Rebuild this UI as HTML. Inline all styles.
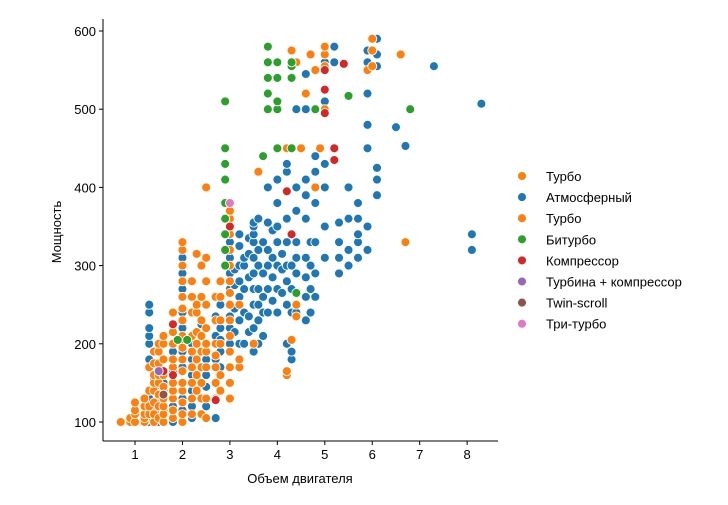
<!DOCTYPE html>
<html><head><meta charset="utf-8">
<style>
body{margin:0;background:#fff;}
svg{font-family:"Liberation Sans","DejaVu Sans",sans-serif;}
</style></head>
<body>
<svg id="chart" width="728" height="500"></svg>
<script>
const atmoCols = [[1.3,[100,130,180,200,210,220,240,250]],[1.4,[100,120,140,155]],[1.5,[100,110,130,140]],[1.6,[100,115,140,150,160]],[1.8,[100,120,140,165,190]],[2.0,[100,115,130,150,170,190,200,210,220,240,260,270,290,310]],[2.2,[105,120,140,160,180,200]],[2.4,[130,150,170,190,210,225]],[2.5,[120,145,160,180,200]],[2.7,[105,150,180,210,235]],[2.8,[170,190,205,220,250]],[3.0,[170,190,200,220,235,250,270,290,310,320,330]],[3.1,[215,245,275,295]],[3.2,[200,230,260,280,300,325,340]],[3.3,[200,240,270,300,310]],[3.4,[215,235,285,315,335]],[3.5,[190,220,250,270,290,310,330,340,350,355]],[3.6,[200,230,250,270,300,320,360]],[3.7,[210,240,260,290,330]],[3.8,[240,270,300,320,355,400]],[3.9,[255,285,310,345]],[4.0,[240,270,300,330,350,380,410,450]],[4.1,[265,295,315]],[4.2,[200,250,280,300,330,360,420,430]],[4.3,[180,190,240,270,300]],[4.4,[240,290,310,330,370,400,500]],[4.6,[230,260,285,310,360,390,410,500,545]],[4.7,[240,270,300,330]],[4.8,[260,290,330,380,400,420,440]],[5.0,[310,350,400,430,510,560,570]],[5.2,[560,580]],[5.3,[290,310,330,355]],[5.5,[300,320,360,400]],[5.7,[310,330,340,360,380]],[5.9,[320,350,450,480,520,560,575]],[6.1,[390,410,425,555,570,590]],[6.5,[477]],[6.7,[453]],[7.3,[555]],[8.1,[320,340]],[8.3,[507]]];
const turboCols = [[0.7,[100]],[0.9,[100,105]],[1.0,[100,110,115,125]],[1.2,[100,105,110,120,130]],[1.3,[110,120,140,170]],[1.4,[100,110,125,140,150,160,175,190]],[1.5,[105,120,135,150,160,175,190,200]],[1.6,[100,110,120,130,145,160,180,200,210]],[1.8,[105,115,130,140,150,170,180,200,215,240]],[2.0,[100,110,125,140,150,165,180,195,210,230,245,260,280,300,320,330]],[2.2,[110,130,150,170,190,210,240,260,280]],[2.3,[140,160,180,200,215,240,250,315]],[2.4,[110,130,150,170,190,210,230,260,300]],[2.5,[105,130,170,190,200,220,250,280,310,400]],[2.7,[130,150,170,185,200,230,260]],[2.8,[140,160,200,230,260,280]],[3.0,[130,150,170,190,210,230,250,265,280,300,320,340,360,370]],[3.2,[170,180,250]],[3.5,[200]],[3.6,[420]],[4.2,[160,165,450]],[4.3,[205,575]],[4.4,[235,250,560]],[4.5,[450]],[4.6,[520]],[4.7,[570]],[4.8,[400,550]],[4.9,[450]],[5.0,[500,555,570,580]],[5.9,[550]],[6.0,[555,575,590]],[6.6,[570]],[6.7,[330]]];
const biturboCols = [[1.9,[205]],[2.1,[205]],[2.9,[300,320,340,360,380,410,430,450,510]],[3.7,[440]],[3.8,[500,520,540,560,580]],[4.0,[450,500,510,540,560]],[4.3,[450,540,555,560]],[4.4,[265]],[4.8,[500]],[5.5,[517]],[6.8,[500]]];
const compCols = [[1.6,[165]],[1.8,[160,225]],[2.7,[128]],[3.0,[350]],[4.2,[395]],[4.3,[340]],[5.0,[495,525,550]],[5.2,[435,450]],[5.4,[558]]];
const turbCompCols = [[1.5,[165]]];
const twinCols = [[1.6,[135]]];
const triCols = [[3.0,[380]]];
const xTicks = [1,2,3,4,5,6,7,8];
const yTicks = [100,200,300,400,500,600];
const legendLabels = ["Турбо","Атмосферный","Турбо","Битурбо","Компрессор","Турбина + компрессор","Twin-scroll","Три-турбо"];
const legendColors = ["#ff7f0e","#1f77b4","#ff7f0e","#2ca02c","#d62728","#9467bd","#8c564b","#e377c2"];

const NS="http://www.w3.org/2000/svg";
const svg=document.getElementById('chart');
const X0=103,X1=498,Y0=441,Y1=19;
const xs=v=>135+(v-1)*47.45;
const ys=v=>422-(v-100)*0.782;
function mk(t,a){const e=document.createElementNS(NS,t);for(const k in a)e.setAttribute(k,a[k]);svg.appendChild(e);return e;}

let ax=mk('line',{x1:X0,y1:Y1,x2:X0,y2:Y0,stroke:'#000','stroke-width':1});


ax=mk('line',{x1:X0,y1:Y0,x2:X1,y2:Y0,stroke:'#000','stroke-width':1});


xTicks.forEach(t=>{
  mk('line',{x1:xs(t),y1:Y0,x2:xs(t),y2:Y0+4,stroke:'#000'});
  const tx=mk('text',{x:xs(t),y:Y0+18,'text-anchor':'middle','font-size':13});
  tx.textContent=t;
  
  
});
yTicks.forEach(t=>{
  mk('line',{x1:X0-4,y1:ys(t),x2:X0,y2:ys(t),stroke:'#000'});
  const tx=mk('text',{x:X0-7,y:ys(t)+5,'text-anchor':'end','font-size':13});
  tx.textContent=t;
  
  
});
let t=mk('text',{x:300,y:483,'text-anchor':'middle','font-size':13});
t.textContent='Объем двигателя';


t=mk('text',{x:61,y:232,'text-anchor':'middle','font-size':13,transform:'rotate(-90 61 232)'});
t.textContent='Мощность';



function drawSeries(cols,color,name){
  cols.forEach(([x,arr])=>arr.forEach(y=>{
    const c=mk('circle',{cx:xs(x),cy:ys(y),r:4.5,fill:color,stroke:'#fff','stroke-width':0.9});
    
    
  }));
}
drawSeries(atmoCols,'#1f77b4','point-atmospheric');
drawSeries(turboCols,'#ff7f0e','point-turbo');
drawSeries(biturboCols,'#2ca02c','point-biturbo');
drawSeries(compCols,'#d62728','point-compressor');
drawSeries(turbCompCols,'#9467bd','point-turbo-compressor');
drawSeries(twinCols,'#8c564b','point-twin-scroll');
drawSeries(triCols,'#e377c2','point-tri-turbo');

legendLabels.forEach((l,i)=>{
  const y=176+i*21.1;
  const c=mk('circle',{cx:522,cy:y,r:4.5,fill:legendColors[i],stroke:'#fff','stroke-width':0.9});
  
  
  const tx=mk('text',{x:546,y:y+5,'font-size':13});
  tx.textContent=l;
  
  
});
</script>
</body></html>
